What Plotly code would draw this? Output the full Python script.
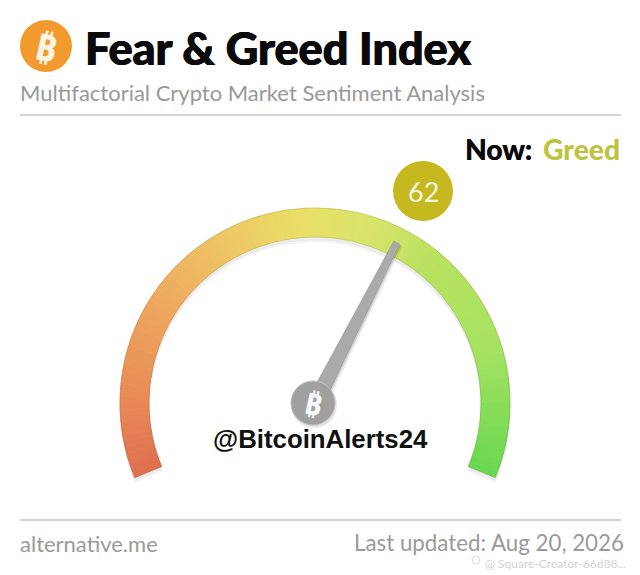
"""Fear & Greed gauge drawn in a 640x575 pixel-like coordinate system."""

import numpy as np
import plotly.graph_objects as go

index_value = 62
index_label = "Greed"
gauge_min = 0
gauge_max = 100

title = "Fear & Greed Index"
subtitle = "Multifactorial Crypto Market Sentiment Analysis"
handle = "@BitcoinAlerts24"
source = "alternative.me"
updated = "Last updated: Aug 20, 2026"
watermark = "@ Square-Creator-66d88..."

# colour ramp along the gauge, 0 -> 100
ramp_pos = [0, 12, 25, 38, 48, 58, 68, 82, 100]
ramp_colors = ["#e06f50", "#e98e58", "#eeaa5f", "#eec965", "#eadf68",
               "#d8e46a", "#b8e260", "#a8e362", "#68d850"]

CX, CY = 315, 403
R_OUT, R_IN = 195, 166
START_DEG, END_DEG = 202.5, -22.5
N_SEG = 120


def to_angle(v):
    frac = (v - gauge_min) / (gauge_max - gauge_min)
    return np.radians(START_DEG + (END_DEG - START_DEG) * frac)


def polar(v, r):
    a = to_angle(v)
    return CX + r * np.cos(a), CY - r * np.sin(a)


def ramp_color(v):
    rgb = [[int(c[i:i + 2], 16) for c in ramp_colors] for i in (1, 3, 5)]
    return "rgb(%d,%d,%d)" % tuple(np.interp(v, ramp_pos, ch) for ch in rgb)


def circle(x, y, r, color, line="rgba(0,0,0,0)", width=0):
    return dict(type="circle", x0=x - r, x1=x + r, y0=y - r, y1=y + r,
                fillcolor=color, line=dict(color=line, width=width), layer="above")


fig = go.Figure()

steps = np.linspace(gauge_min, gauge_max, N_SEG + 1)

# closed outline of the ring, used for the shadow and the darker edge
ox, oy = polar(steps, R_OUT)
ix, iy = polar(steps[::-1], R_IN)
ring_x = np.concatenate([ox, ix, ox[:1]])
ring_y = np.concatenate([oy, iy, oy[:1]])
for off, col in [(5, "rgba(0,0,0,0.03)"), (3, "rgba(0,0,0,0.04)")]:
    fig.add_trace(go.Scatter(x=ring_x, y=ring_y + off, mode="lines", fill="toself", fillcolor=col,
                             line=dict(color=col, width=1), hoverinfo="skip"))

# gauge ring, one small wedge per step
for v0, v1 in zip(steps[:-1], steps[1:]):
    x0, y0 = polar(v0, R_OUT)
    x1, y1 = polar(v1, R_OUT)
    x2, y2 = polar(v1, R_IN)
    x3, y3 = polar(v0, R_IN)
    col = ramp_color((v0 + v1) / 2)
    fig.add_trace(go.Scatter(x=[x0, x1, x2, x3, x0], y=[y0, y1, y2, y3, y0],
                             mode="lines", fill="toself", fillcolor=col,
                             line=dict(color=col, width=0.8), hoverinfo="skip"))

fig.add_trace(go.Scatter(x=ring_x, y=ring_y, mode="lines", line=dict(color="rgba(90,80,40,0.16)", width=1),
                         hoverinfo="skip"))

# needle with a soft shadow
a = to_angle(index_value)
ux, uy = np.cos(a), -np.sin(a)
px_, py_ = -uy, ux
needle_len = 180
base_w, tip_w = 8, 3.3
for off, col in [(2.5, "rgba(0,0,0,0.06)"), (1.2, "rgba(0,0,0,0.10)"), (0, "#aaaaaa")]:
    nx = [CX + px_ * base_w + off, CX + ux * needle_len + px_ * tip_w + off,
          CX + ux * needle_len - px_ * tip_w + off, CX - px_ * base_w + off]
    ny = [CY + py_ * base_w + off, CY + uy * needle_len + py_ * tip_w + off,
          CY + uy * needle_len - py_ * tip_w + off, CY - py_ * base_w + off]
    fig.add_trace(go.Scatter(x=nx + nx[:1], y=ny + ny[:1], mode="lines", fill="toself",
                             fillcolor=col, line=dict(width=0.6, color="#959595" if off == 0 else col),
                             hoverinfo="skip"))

shapes = [
    dict(type="line", x0=20, x1=621, y0=115, y1=115, line=dict(color="#c4c4c4", width=1.5)),
    dict(type="line", x0=20, x1=621, y0=520, y1=520, line=dict(color="#c4c4c4", width=1.5)),
    circle(46, 46, 26, "#f39a2f"),
    circle(423, 191, 30, "#c5b91f"),
    circle(314, 405, 23, "rgba(0,0,0,0.10)"),
    circle(313, 403, 22, "#a0a0a0", "#bdbdbd", 1),
    circle(476, 560, 4, "rgba(0,0,0,0)", "#dcdcdc", 1),
]


def label(x, y, text, size, color, family="Lato", anchor="left", angle=0, weight=None, shadow=None):
    font = dict(family=family, size=size, color=color)
    if weight:
        font["weight"] = weight
    if shadow:
        font["shadow"] = shadow
    return dict(x=x, y=y, text=text, showarrow=False, xanchor=anchor, yanchor="middle",
                textangle=angle, font=font)


heavy = "0.5px 0 0 #0a0a0a, -0.5px 0 0 #0a0a0a"
annotations = [
    label(83, 48, title, 45, "#0a0a0a", weight=900, shadow=heavy),
    label(18, 92, subtitle, 22, "#999999"),
    label(463, 149, "Now:", 28, "#0a0a0a", weight=900, shadow="0.3px 0 0 #0a0a0a"),
    label(541, 149, index_label, 28.3, "#bcc440", weight=900),
    label(423, 191, str(index_value), 27, "#f4f4e0", anchor="center"),
    label(46, 46, "₿", 37, "#fdf3e3", "Noto Sans", "center", 12, weight=700),
    label(313, 403, "₿", 30, "#f8f8f8", "Noto Sans", "center", 12, weight=700),
    label(320, 439, handle, 25.8, "#111111", "Liberation Sans", "center", weight=700),
    label(18, 543, source, 22, "#9a9a9a"),
    label(626, 542, updated, 22.3, "#9a9a9a", anchor="right"),
    label(628, 563, watermark, 12, "#d2d2d2", anchor="right"),
]

fig.update_layout(
    width=640, height=575, margin=dict(l=0, r=0, t=0, b=0),
    paper_bgcolor="white", plot_bgcolor="white", showlegend=False,
    shapes=shapes, annotations=annotations,
    xaxis=dict(range=[0, 640], visible=False, fixedrange=True),
    yaxis=dict(range=[575, 0], visible=False, fixedrange=True),
)

# page default margin would push the figure 8px off
fig.write_html("out.html", config=dict(displayModeBar=False),
               post_script="document.body.style.margin='0';")
